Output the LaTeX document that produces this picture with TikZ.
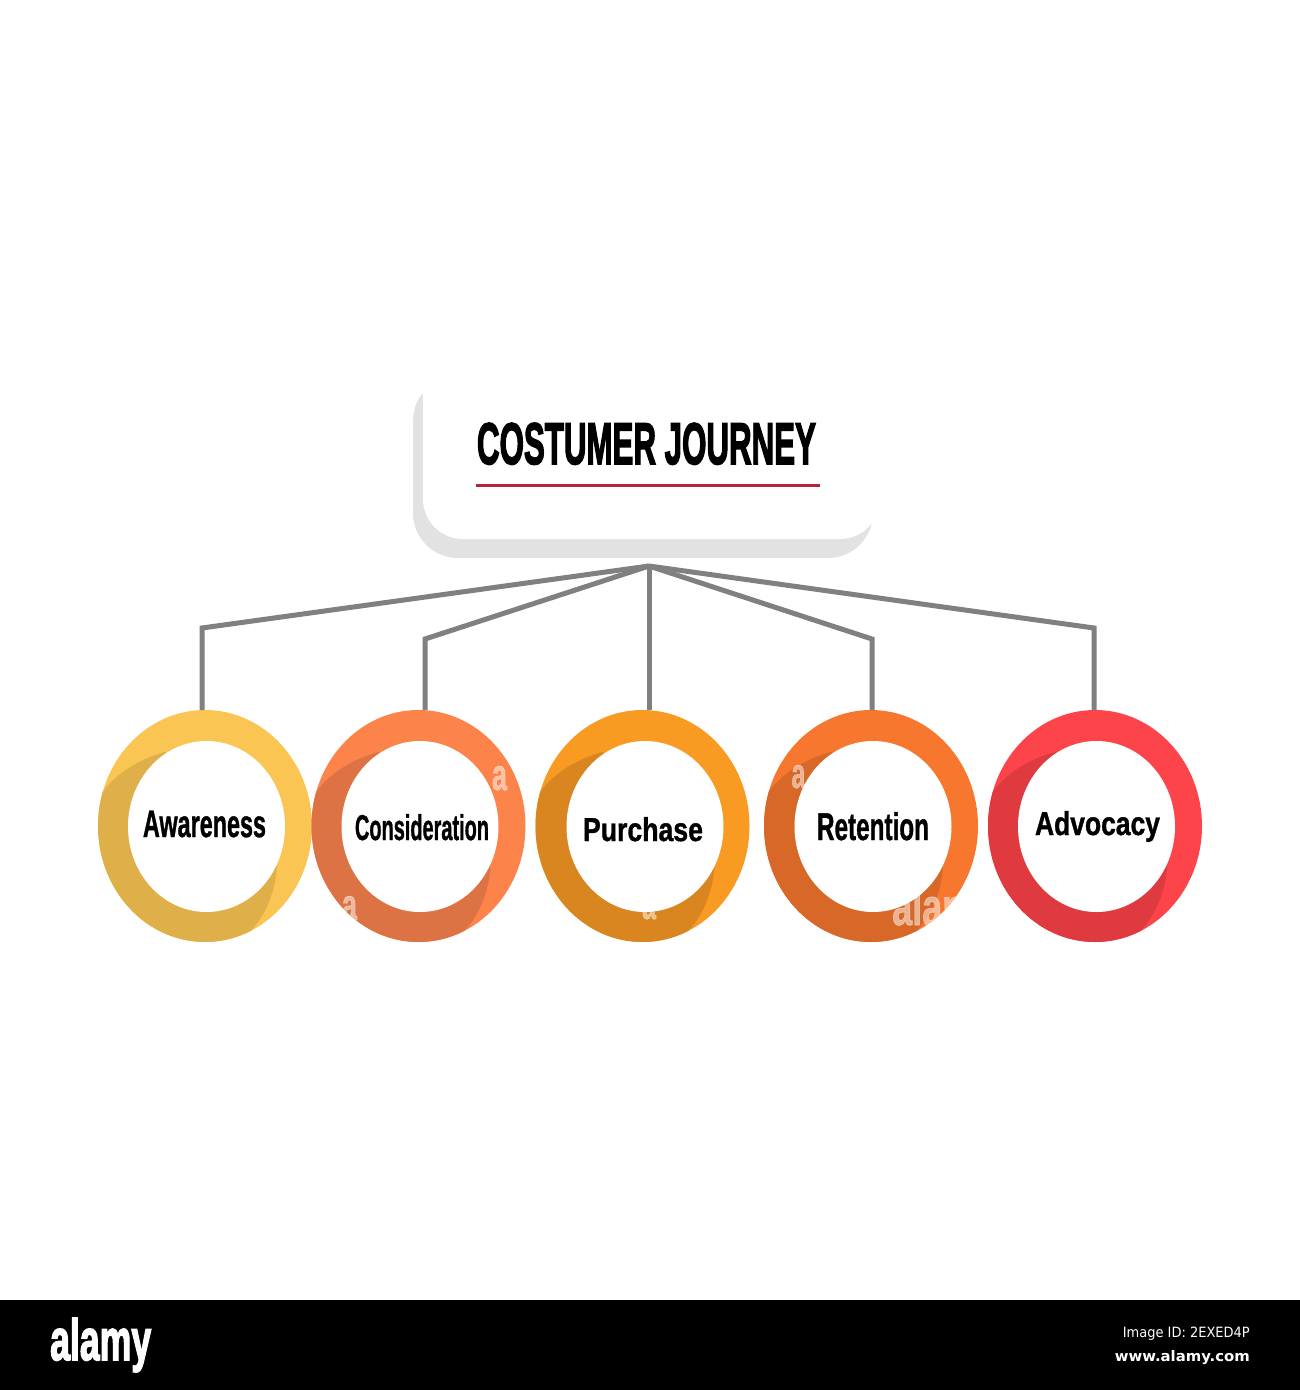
\documentclass[tikz,border=0pt]{standalone}
\usepackage{fontspec}
\usepackage{graphicx}
\usetikzlibrary{shapes.geometric}
\setmainfont{Liberation Sans}[BoldFeatures={FakeBold=1.2}]
\newfontfamily\heavyfont{Liberation Sans}[BoldFeatures={FakeBold=3}]
\newfontfamily\footfont{DejaVu Sans}
\definecolor{linegrey}{HTML}{808080}
\definecolor{cardgrey}{HTML}{E2E2E2}
\definecolor{ruled}{HTML}{B52534}
\definecolor{ringa}{HTML}{FAC552}\definecolor{shadea}{HTML}{DFB04A}
\definecolor{ringb}{HTML}{FC8349}\definecolor{shadeb}{HTML}{DD7344}
\definecolor{ringc}{HTML}{F99A22}\definecolor{shadec}{HTML}{D98620}
\definecolor{ringd}{HTML}{F7772E}\definecolor{shaded}{HTML}{D86828}
\definecolor{ringe}{HTML}{FE444B}\definecolor{shadee}{HTML}{DF3A40}
\tikzset{
  link/.style={draw=linegrey,line width=5pt,line join=miter},
  ringshape/.style={ellipse,inner sep=0pt,outer sep=0pt,minimum width=214pt,minimum height=232pt},
  holeshape/.style={ellipse,fill=white,inner sep=0pt,outer sep=0pt,minimum width=157pt,minimum height=171pt},
  lbl/.style={anchor=base,inner sep=0pt,outer sep=0pt,text=black},
  wmark/.style={anchor=base,inner sep=0pt,text=white,text opacity=.5}
}
% name, outer centre x, hole centre x, ring colour, shade colour, watermark code
\newcommand\ringitem[6]{%
  \node[ringshape,fill=#4] (#1) at (#2,826) {};
  \begin{scope}
    \clip (#2,826) ellipse [x radius=107pt,y radius=116pt];
    \fill[#5] (#2-40,752) .. controls (#2-70,760) and (#2-95,778) .. (#2-106,798)
      -- (#2-130,800) -- (#2-130,960) -- (#2+38,960) -- (#2+38,938)
      .. controls (#2+58,922) and (#2+70,895) .. (#2+72,867) -- cycle;
    #6
  \end{scope}
  \node[holeshape] (#1hole) at (#3,826.5) {};
}
\begin{document}
\begin{tikzpicture}[x=1pt,y=-1pt]
\useasboundingbox (0,0) rectangle (1300,1390);
\fill[white] (0,0) rectangle (1300,1390);
% card
\fill[cardgrey] (423,393) .. controls (417,400) and (413,408) .. (413,425)
  [rounded corners=45pt] -- (413,558) -- (873,558) -- (873,470) [sharp corners] -- (423,470) -- cycle;
\fill[white,rounded corners=40pt] (423,440) -- (423,539) -- (880,539) -- (880,440) [sharp corners] -- cycle;
\fill[white] (423,380) rectangle (880,470);
\node[lbl] (title) at (646.5,464) {\resizebox{339pt}{41pt}{\heavyfont\bfseries COSTUMER JOURNEY}};
\draw[ruled,line width=3pt] (476,485) -- (820,485);
% hub and elbows
\coordinate (hub) at (649,566);
\coordinate (ea) at (202,628);
\coordinate (eb) at (425,639);
\coordinate (ec) at (649,640);
\coordinate (ed) at (872,639);
\coordinate (ee) at (1094,628);
% rings
\ringitem{awareness}{205}{206.5}{ringa}{shadea}{}
\ringitem{consideration}{418.5}{420}{ringb}{shadeb}{%
  \node[wmark] at (499.5,790) {\resizebox{15pt}{24pt}{\bfseries a}};
  \node[wmark] at (349.5,920) {\resizebox{15pt}{24pt}{\bfseries a}};}
\ringitem{purchase}{642.5}{645}{ringc}{shadec}{%
  \node[wmark] at (649,919) {\resizebox{14pt}{24pt}{\bfseries a}};}
\ringitem{retention}{871}{873}{ringd}{shaded}{%
  \node[wmark] at (798.5,788) {\resizebox{14pt}{23pt}{\bfseries a}};
  \node[wmark,anchor=base west] at (892,925) {\resizebox{82pt}{38pt}{\bfseries alam}};}
\ringitem{advocacy}{1095}{1096.5}{ringe}{shadee}{}
% connectors
\draw[link] (hub) -- (ea) -- (ea |- awareness.north);
\draw[link] (hub) -- (eb) -- (eb |- consideration.north);
\draw[link] (hub) -- (ec |- purchase.north);
\draw[link] (hub) -- (ed) -- (ed |- retention.north);
\draw[link] (hub) -- (ee) -- (ee |- advocacy.north);
% labels
\node[lbl] (tawareness) at (204.5,837) {\resizebox{123pt}{26.5pt}{\bfseries Awareness}};
\node[lbl] (tconsideration) at (422,840) {\resizebox{134pt}{26pt}{\bfseries Consideration}};
\node[lbl] (tpurchase) at (643,841) {\resizebox{120pt}{24pt}{\bfseries Purchase}};
\node[lbl] (tretention) at (873,840) {\resizebox{112pt}{28pt}{\bfseries Retention}};
\node[lbl] (tadvocacy) at (1097.5,835) {\resizebox{125pt}{24pt}{\bfseries Advocacy}};
% footer
\fill[black] (0,1300) rectangle (1300,1390);
\node[anchor=base west,inner sep=0pt,text=white] (alamy) at (50,1360) {\resizebox{101pt}{42pt}{\heavyfont\bfseries alamy}};
\node[anchor=base east,inner sep=0pt,text=white] (imgid) at (1250,1337) {\resizebox{127pt}{10.5pt}{\footfont Image ID: 2EXED4P}};
\node[anchor=base east,inner sep=0pt,text=white] (www) at (1250,1361) {\resizebox{135pt}{11pt}{\bfseries\footfont www.alamy.com}};
\end{tikzpicture}
\end{document}
